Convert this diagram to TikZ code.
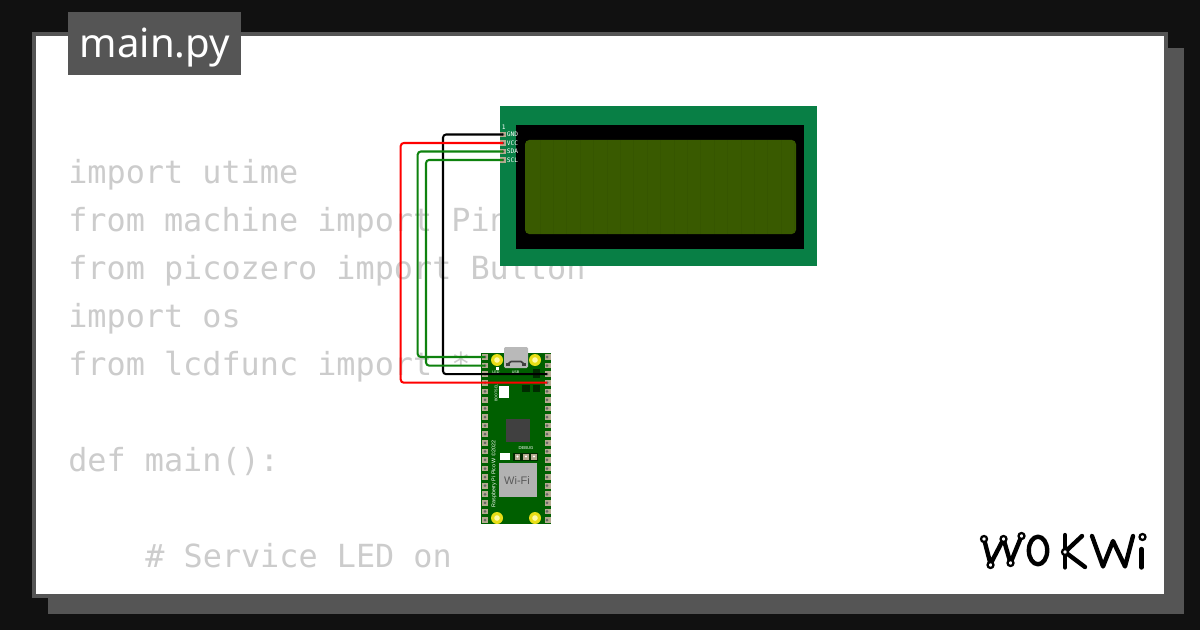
\documentclass[tikz,border=0pt]{standalone}
\usepackage{fontspec}
\newfontfamily\codefont{DejaVu Sans Mono}
\newfontfamily\tabfont{Noto Sans}
\newfontfamily\boardfont{Liberation Sans}
\definecolor{pagedark}{HTML}{111111}
\definecolor{framegrey}{HTML}{555555}
\definecolor{codegrey}{HTML}{CCCCCC}
\definecolor{lcdgreen}{HTML}{087F45}
\definecolor{lcdolive}{HTML}{395A00}
\definecolor{picogreen}{HTML}{005F00}
\definecolor{padtan}{HTML}{B5AB90}
\definecolor{wiregreen}{HTML}{0E820E}
\tikzset{
  codeline/.style={anchor=base west,inner sep=0pt,text=codegrey,font=\codefont\fontsize{22.63}{24}\selectfont},
  wire/.style={line width=1.45pt,rounded corners=2.2pt},
  lcdlabel/.style={anchor=west,inner sep=0pt,text=white,font=\codefont\fontsize{4.4}{5}\selectfont},
  logoline/.style={line width=3.1pt,line cap=round,line join=round},
  logodot/.style={line width=1.6pt,draw=black,fill=white},
}
\begin{document}
\begin{tikzpicture}[x=0.025cm,y=-0.025cm]
\useasboundingbox (0,0) rectangle (1200,630);
\fill[pagedark] (0,0) rectangle (1200,630);
\fill[framegrey] (48,48) rectangle (1184,614);
\fill[framegrey] (32,32) rectangle (1168,598);
\fill[white] (36,36) rectangle (1164,594);
\fill[framegrey] (68,12) rectangle (241,75);
\node[anchor=base west,inner sep=0pt,text=white,font=\tabfont\fontsize{28.5}{32}\selectfont] (tabname) at (79.5,58) {main.py};
% code behind the circuit
\node[codeline] (code1) at (68,183) {import utime};
\node[codeline] (code2) at (68,231) {from machine import Pin};
\node[codeline] (code3) at (68,279) {from picozero import Button};
\node[codeline] (code4) at (68,327) {import os};
\node[codeline] (code5) at (68,375) {from lcdfunc import *};
\node[codeline] (code6) at (68,471) {def main():};
\node[codeline] (code7) at (145,567) {\# Service LED on};
% lcd
\fill[lcdgreen] (500,106) rectangle (817,266);
\fill[black] (516,125) rectangle (804,249);
\fill[lcdolive,rounded corners=3pt] (525,140) rectangle (796,234);
\foreach \i in {0,...,19}
  \draw[black,opacity=0.04,line width=0.6pt] (540+13.4*\i,140) -- (540+13.4*\i,234);
\node[lcdlabel] (lcdone) at (501.5,127.5) {1};
\node[lcdlabel] (gndtext) at (506.7,134.5) {GND};
\node[lcdlabel] (vcctext) at (506.7,143) {VCC};
\node[lcdlabel] (sdatext) at (506.7,151.5) {SDA};
\node[lcdlabel] (scltext) at (506.7,160) {SCL};
\foreach \y/\n in {134.5/gnd,143/vcc,151.5/sda,160/scl} {
  \fill[padtan] (500,\y-2.8) rectangle (505.7,\y+2.8);
  \fill[black!70] (503,\y) circle (1.4);
  \coordinate (lcd\n) at (503,\y);
}
% pico board
\fill[picogreen] (481,353) rectangle (551,524);
\foreach \i in {0,...,19} {
  \fill[padtan] (482,357+8.58*\i-2.8) rectangle (488,357+8.58*\i+2.8);
  \fill[black!60] (485,357+8.58*\i) circle (1.5);
  \fill[padtan] (545,357+8.58*\i-2.8) rectangle (551,357+8.58*\i+2.8);
  \fill[black!60] (547,357+8.58*\i) circle (1.5);
}
\foreach \x/\y in {497/360,535/360,497/518,535/518} {
  \fill[yellow!90!black] (\x,\y) circle (6);
  \fill[yellow!35] (\x,\y) circle (2.8);
}
\fill[gray!55,rounded corners=1pt] (504,347) rectangle (528,368);
\draw[black!75,line width=1.2pt,line join=round] (508,364) -- (511,361.5) -- (521,361.5) -- (524,364);
\fill[black!75] (506,363) rectangle (510,366);
\fill[black!75] (522,363) rectangle (526,366);
\fill[white] (495.5,367) rectangle (499,369.5);
\node[inner sep=0pt,text=white,font=\boardfont\fontsize{2.6}{3}\selectfont] (usbtext) at (515.5,372) {USB};
\node[inner sep=0pt,text=white,font=\boardfont\fontsize{2.6}{3}\selectfont] (ledtext) at (496,372) {LED};
\fill[white] (499,386) rectangle (509,398);
\node[inner sep=0pt,rotate=90,text=white,font=\boardfont\fontsize{2.6}{3}\selectfont] (boottext) at (496,393) {BOOTSEL};
\fill[black!55!picogreen] (533,369) rectangle (540,378);
\fill[black!55!picogreen] (522,385) rectangle (530,392);
\fill[black!55!picogreen] (533,385) rectangle (540,392);
\fill[black!75] (506,419) rectangle (530,442);
\fill[white] (500,453) rectangle (510,460);
\fill[black!55!picogreen] (513,452.5) rectangle (538,461);
\foreach \x in {517.5,526,534} {
  \fill[padtan] (\x-2.8,453.5) rectangle (\x+2.8,459.5);
  \fill[white] (\x,456.5) circle (1.2);
}
\node[inner sep=0pt,text=white,font=\boardfont\fontsize{3}{3}\selectfont] (debugtext) at (526,448.5) {DEBUG};
\node[inner sep=0pt,rotate=90,text=white,font=\boardfont\fontsize{3.8}{4}\selectfont] (boardtext) at (494,474) {Raspberry Pi Pico W ©2022};
\fill[gray!60] (499,463) rectangle (537,497);
\node[inner sep=0pt,text=black!65,font=\boardfont\fontsize{7.8}{8}\selectfont] (wifitext) at (517,481) {Wi-Fi};
% wires
\coordinate (picogp0) at (485,357);
\coordinate (picogp1) at (485,365.6);
\coordinate (picogndpin) at (547,374.2);
\coordinate (picovcc) at (547,382.7);
\draw[wire,black] (lcdgnd) -- ++(-60,0) |- (picogndpin);
\draw[wire,red] (lcdvcc) -- ++(-102.3,0) |- (picovcc);
\draw[wire,wiregreen] (lcdsda) -- ++(-85.3,0) |- (picogp0);
\draw[wire,wiregreen] (lcdscl) -- ++(-77,0) |- (picogp1);
% logo
\draw[logoline] (984,539) -- (990.5,564) -- (1003.5,539) -- (1010.5,563) -- (1021.5,536);
\draw[logoline] (1038,550.5) ellipse (9.2 and 13.8);
\draw[logoline] (1065,535) -- (1065,567.5);
\draw[logoline] (1082,536) -- (1065,552) -- (1085,567);
\draw[logoline] (1092,536) -- (1103,566.5) -- (1113,541) -- (1125,566.5) -- (1133,536);
\draw[logoline] (1141.5,549) -- (1141.5,567.5);
\foreach \x/\y in {984/539,1003.5/539,1021.5/536,990.5/565,1010.5/563,1065/552,1142.5/537}
  \path[logodot] (\x,\y) circle (3);
\end{tikzpicture}
\end{document}
